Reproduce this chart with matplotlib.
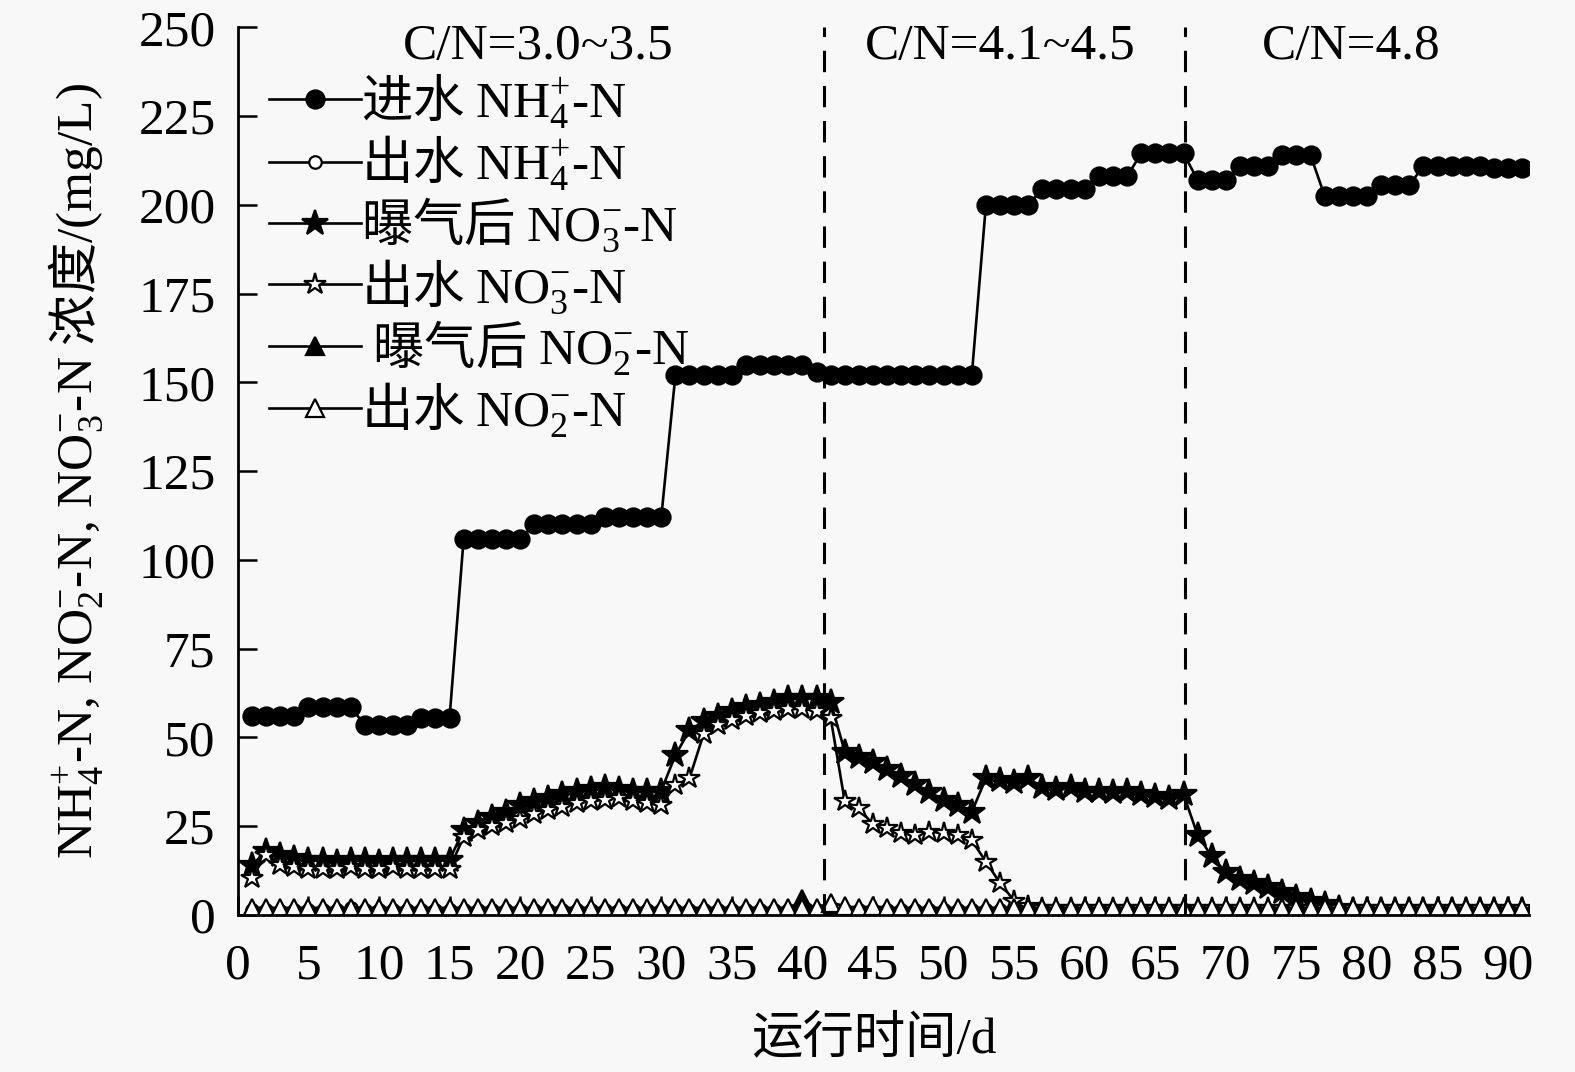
import matplotlib
matplotlib.use('Agg')
import matplotlib.pyplot as plt

plt.rcParams['font.family'] = ['Liberation Serif', 'Noto Sans CJK SC']
# latin parts inside $...$ go to Liberation Serif, chinese stays in Noto CJK
plt.rcParams['mathtext.fontset'] = 'custom'
plt.rcParams['mathtext.rm'] = 'Liberation Serif'
plt.rcParams['mathtext.it'] = 'Liberation Serif:italic'
plt.rcParams['mathtext.bf'] = 'Liberation Serif:bold'
plt.rcParams['axes.unicode_minus'] = False

# running days
days = list(range(1, 92))

# influent NH4+-N
inf_nh4 = [56, 56, 56, 56, 58.5, 58.5, 58.5, 58.5, 53.5, 53.5, 53.5, 53.5, 55.5, 55.5, 55.5,
           106, 106, 106, 106, 106, 110, 110, 110, 110, 110, 112, 112, 112, 112, 112,
           152, 152, 152, 152, 152, 155, 155, 155, 155, 155, 153,
           152, 152, 152, 152, 152, 152, 152, 152, 152, 152, 152,
           200, 200, 200, 200, 204.5, 204.5, 204.5, 204.5, 208, 208, 208,
           214.5, 214.5, 214.5, 214.5, 207, 207, 207, 211, 211, 211, 214, 214, 214,
           202.5, 202.5, 202.5, 202.5, 205.5, 205.5, 205.5,
           211, 211, 211, 211, 211, 210.5, 210.5, 210.5]

# effluent NH4+-N
eff_nh4 = [1.5, 1.5, 1.2, 1.5, 1.5, 1.5, 1.5, 2.0, 1.5, 1.5, 1.5, 1.5, 1.5, 1.5, 1.5,
           1.5, 1.5, 1.5, 1.5, 1.5, 1.5, 1.5, 1.5, 1.5, 1.5, 1.5, 1.5, 1.5, 1.5, 1.5,
           1.5, 1.5, 1.5, 1.5, 1.5, 1.5, 1.5, 1.5, 1.5, 1.5, 1.5, 1.5, 1.5, 1.5, 1.5,
           1.5, 1.5, 1.5, 1.5, 1.5, 1.5, 1.5, 1.5, 1.5, 1.5, 1.5, 1.5, 1.5, 1.5, 1.5,
           1.5, 1.5, 1.5, 1.5, 1.5, 1.5, 1.5, 1.5, 1.5, 1.5, 1.5, 1.5, 1.5, 1.5, 1.5,
           1.5, 1.5, 1.5, 1.5, 1.5, 1.5, 1.5, 1.5, 1.5, 1.5, 1.5, 1.5, 1.5, 1.5, 1.5, 1.5]

# NO3--N after aeration
aer_no3 = [14, 18, 17, 16, 15.5, 15.5, 15, 15.5, 15.5, 15, 15.5, 15.5, 15.5, 15.5, 15.5,
           24, 26, 27.5, 29, 31, 32, 33, 34, 35, 35.5, 36, 35.5, 35, 35, 35,
           45, 52, 54.5, 56, 57.5, 58.5, 59, 60, 61, 61, 61, 60,
           46, 44.5, 43, 41, 39, 37, 34.5, 32.5, 31, 29,
           38.5, 38, 37.5, 38.5, 36, 35.5, 36, 35, 35, 34.5, 35, 34, 33.5, 33, 34,
           22.5, 16.5, 12, 10, 9, 8, 6.5, 5, 4, 3, 2,
           1.5, 1.5, 1.5, 1.5, 1.5, 1.5, 1.5, 1.5, 1.5, 1.5, 1.5, 1.5, 1.5]

# effluent NO3--N
eff_no3 = [10.5, 17, 14, 13.5, 13, 13, 13, 13.5, 13, 13, 13.5, 13, 13, 13, 13,
           22, 24, 25, 26, 27, 28.5, 29.5, 30.5, 31.5, 32, 32.5, 33, 32, 31.5, 31,
           36.5, 38.5, 51, 53.5, 55, 56, 57, 57.5, 58, 58, 57.5, 55.5,
           32, 30, 25.5, 24.5, 23, 22.5, 23.5, 23, 22.5, 21,
           15, 9, 4, 2.5, 2, 2, 2, 2, 2, 2, 2, 2, 2, 2, 2,
           2, 2, 2, 2, 2, 2, 2, 2, 2, 2, 2, 2,
           2, 2, 2, 2, 2, 2, 2, 2, 2, 2, 2, 2]

# NO2--N after aeration
aer_no2 = [1, 1, 1, 1, 1, 1, 1, 1, 1, 1, 1, 1, 1, 1, 1,
           1, 1, 1, 1, 1, 1, 1, 1, 1, 1, 1, 1, 1, 1, 1,
           1, 1, 1, 1, 1, 1, 1, 1, 1.5, 4.5, 1.5, 1, 1, 1, 1,
           1, 1, 1, 1, 1, 1, 1, 1, 1, 1, 1, 1, 1, 1, 1,
           1, 1, 1, 1, 1, 1, 1, 1, 1, 1, 1, 1, 1, 1, 1,
           1, 1, 1, 1, 1, 1, 1, 1, 1, 1, 1, 1, 1, 1, 1, 1]

# effluent NO2--N
eff_no2 = [2, 2, 2, 2, 2, 2, 2, 2, 2, 2, 2, 2, 2, 2, 2,
           2, 2, 2, 2, 2, 2, 2, 2, 2, 2, 2, 2, 2, 2, 2,
           2, 2, 2, 2, 2, 2, 2, 2, 2, 2, 2, 3.5, 2.5, 2, 2.5,
           2, 2, 2, 2, 2, 2, 2, 2, 2, 2, 2, 2, 2, 2, 2,
           2, 2, 2, 2, 2, 2, 2, 2, 2, 2, 2, 2, 2, 2, 2,
           2, 2, 2, 2, 2, 2, 2, 2, 2, 2, 2, 2, 2, 2, 2, 2]

labels = [r'进水 $\mathrm{NH}_4^{+}\text{-N}$',
          r'出水 $\mathrm{NH}_4^{+}\text{-N}$',
          r'曝气后 $\mathrm{NO}_3^{-}\text{-N}$',
          r'出水 $\mathrm{NO}_3^{-}\text{-N}$',
          r' 曝气后 $\mathrm{NO}_2^{-}\text{-N}$',
          r'出水 $\mathrm{NO}_2^{-}\text{-N}$']
ylab = r'$\mathrm{NH}_4^{+}\text{-N, NO}_2^{-}\text{-N, NO}_3^{-}\text{-N}$ 浓度$\text{/(mg/L)}$'
phase_bounds = [41.5, 67.1]
phase_text = ['C/N=3.0~3.5', 'C/N=4.1~4.5', 'C/N=4.8']
phase_x = [21.3, 54.0, 78.9]

bg = '#f8f8f8'
fs = 37
fig = plt.figure(figsize=(15.75, 10.72), dpi=100, facecolor=bg)
ax = fig.add_axes([0.151, 0.1465, 0.82, 0.828])
ax.set_facecolor(bg)

lw = 1.9
mew = 1.6
ax.plot(days, inf_nh4, '-o', color='k', lw=lw, ms=13, mfc='k', mew=mew, label=labels[0])
ax.plot(days, eff_nh4, '-o', color='k', lw=lw, ms=9, mfc='white', mew=mew, label=labels[1])
ax.plot(days, aer_no3, '-*', color='k', lw=lw, ms=19, mfc='k', mew=mew, label=labels[2])
ax.plot(days, eff_no3, '-*', color='k', lw=lw, ms=16, mfc='white', mew=mew, label=labels[3])
ax.plot(days, aer_no2, '-^', color='k', lw=lw, ms=13, mfc='k', mew=mew, label=labels[4])
ax.plot(days, eff_no2, '-^', color='k', lw=lw, ms=13, mfc='white', mew=mew, label=labels[5])

for b in phase_bounds:
    ax.axvline(b, color='k', ls=(0, (7, 4.5)), lw=2.2)
for t, x in zip(phase_text, phase_x):
    ax.text(x, 244.5, t, ha='center', va='center', fontsize=fs)

ax.set_xlim(0, 91.5)
ax.set_ylim(0, 250)
ax.set_xticks(range(0, 91, 5))
ax.set_yticks(range(0, 251, 25))
ax.tick_params(direction='in', length=14, width=1.8, labelsize=fs)
ax.tick_params(axis='x', pad=20)
ax.tick_params(axis='y', pad=16)
for s in ['top', 'right']:
    ax.spines[s].set_visible(False)
for s in ['left', 'bottom']:
    ax.spines[s].set_linewidth(2)

ax.set_xlabel('运行时间/d', fontsize=fs)
ax.xaxis.set_label_coords(0.492, -0.113)
ax.set_ylabel(ylab, fontsize=fs, fontfamily='Noto Sans CJK SC')
ax.yaxis.set_label_coords(-0.103, 0.5)

ax.legend(loc='upper left', bbox_to_anchor=(0.0, 0.985), frameon=False,
          prop={'family': 'Noto Sans CJK SC', 'size': 37},
          numpoints=1, handlelength=1.8, handletextpad=0.0, labelspacing=0.05,
          borderaxespad=0.2)

fig.savefig('out.png', dpi=100, facecolor=bg)
